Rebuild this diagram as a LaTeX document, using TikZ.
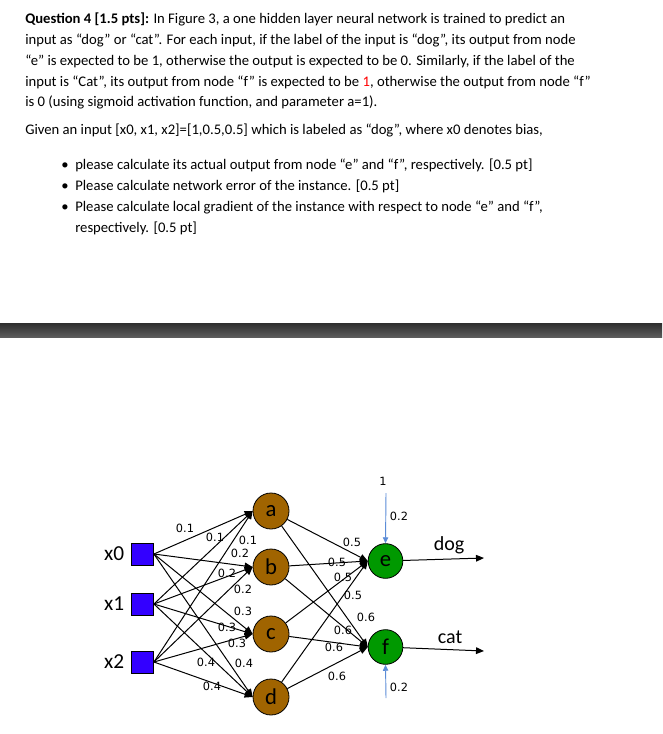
\documentclass[tikz,border=0pt]{standalone}
\usepackage{fontspec}
\setmainfont{Carlito}
\newfontfamily\wfont{DejaVu Sans}
\usepackage{tikz}
\usetikzlibrary{arrows.meta,positioning}

\definecolor{inblue}{RGB}{51,0,255}
\definecolor{hidbrown}{RGB}{160,100,0}
\definecolor{outgreen}{RGB}{0,153,0}
\definecolor{biasblue}{RGB}{91,140,215}

\begin{document}
\begin{tikzpicture}[
  x=0.75pt,
  y=-0.75pt,
  qline/.style={anchor=base west,inner sep=0pt,font=\fontsize{11}{13}\selectfont},
  inp/.style={draw=black,fill=inblue,minimum size=16.5pt,inner sep=0pt,line width=0.6pt},
  hid/.style={circle,draw=black,fill=hidbrown,minimum size=27pt,inner sep=0pt,line width=0.6pt,font=\fontsize{17}{20}\selectfont},
  outn/.style={circle,draw=black,fill=outgreen,minimum size=26pt,inner sep=0pt,line width=0.6pt,font=\fontsize{17}{20}\selectfont},
  big/.style={font=\fontsize{16}{19}\selectfont,inner sep=0pt},
  wt/.style={font=\wfont\fontsize{8.5}{10}\selectfont,inner sep=0pt},
  conn/.style={-{Triangle[length=6pt,width=5pt]},line width=0.75pt},
  biasarr/.style={-{Triangle[length=4.5pt,width=4pt]},draw=biasblue,line width=0.7pt}
]
\useasboundingbox (0,0) rectangle (662,734);

% question text
\node[qline] (q1) at (25,23.5) {\textbf{Question 4 [1.5 pts]:} In Figure 3, a one hidden layer neural network is trained to predict an};
\node[qline] (q2) at (25,44.5) {input as “dog” or “cat”. For each input, if the label of the input is “dog”, its output from node};
\node[qline] (q3) at (25,65.5) {“e” is expected to be 1, otherwise the output is expected to be 0. Similarly, if the label of the};
\node[qline] (q4) at (25,86.5) {input is “Cat”, its output from node “f” is expected to be \textcolor{red}{1}, otherwise the output from node “f”};
\node[qline] (q5) at (25,106.5) {is 0 (using sigmoid activation function, and parameter a=1).};
\node[qline] (q6) at (25,134.5) {Given an input [x0, x1, x2]=[1,0.5,0.5] which is labeled as “dog”, where x0 denotes bias,};
\foreach \y in {169.5,190.5,211.5} {
  \node[qline] at (61,\y) {•};
}
\node[qline] (b1) at (75,169.5) {please calculate its actual output from node “e” and “f”, respectively. [0.5 pt]};
\node[qline] (b2) at (75,190.5) {Please calculate network error of the instance. [0.5 pt]};
\node[qline] (b3) at (75,211.5) {Please calculate local gradient of the instance with respect to node “e” and “f”,};
\node[qline] (b4) at (75,232.5) {respectively. [0.5 pt]};

% separator bar
\shade[top color=black!82,bottom color=black!64] (0,323) rectangle (662,337);

% network
\node[inp] (x0) at (142.5,554) {};
\node[inp] (x1) at (142.5,604) {};
\node[inp] (x2) at (142.5,662) {};
\node[big,left=5pt of x0] (lx0) {x0};
\node[big,left=5pt of x1] (lx1) {x1};
\node[big,left=5pt of x2] (lx2) {x2};

\node[hid] (a) at (271,511) {a};
\node[hid] (b) at (271,567) {b};
\node[hid] (c) at (271,634) {c};
\node[hid] (d) at (271,697) {d};

\node[outn] (e) at (385.5,561) {e};
\node[outn] (f) at (385.5,647) {f};

\foreach \i in {x0,x1,x2} {
  \foreach \h in {a,b,c,d} {
    \draw[conn] (\i.east) -- (\h.west);
  }
}
\foreach \h in {a,b,c,d} {
  \draw[conn] (\h) -- (e.west);
  \draw[conn] (\h) -- (f.west);
}

% input weights
\node[wt] (w1) at (185,528) {0.1};
\node[wt] (w2) at (215,537) {0.1};
\node[wt] (w3) at (248,540) {0.1};
\node[wt] (w4) at (240,553) {0.2};
\node[wt] (w5) at (227,573) {0.2};
\node[wt] (w6) at (243,589) {0.2};
\node[wt] (w7) at (243,611) {0.3};
\node[wt] (w8) at (227,627) {0.3};
\node[wt] (w9) at (237,643) {0.3};
\node[wt] (w10) at (206,662) {0.4};
\node[wt] (w11) at (244,663) {0.4};
\node[wt] (w12) at (212,686) {0.4};

% output weights
\node[wt] (v1) at (352,542) {0.5};
\node[wt] (v2) at (337,562) {0.5};
\node[wt] (v3) at (343,577) {0.5};
\node[wt] (v4) at (353,595) {0.5};
\node[wt] (v5) at (366,617) {0.6};
\node[wt] (v6) at (343,630) {0.6};
\node[wt] (v7) at (334,647) {0.6};
\node[wt] (v8) at (337,676) {0.6};

% bias
\node[wt] (one) at (383,481) {1};
\coordinate (btop) at (386,493);
\coordinate (bbot) at (386,698);
\draw[biasarr] (btop) -- (e.north);
\draw[biasarr] (bbot) -- (f.south);
\node[wt] (be) at (399,516) {0.2};
\node[wt] (bf) at (399,687) {0.2};

% outputs
\coordinate (dogend) at (484,558);
\coordinate (catend) at (484,651);
\draw[conn] (e) -- (dogend);
\draw[conn] (f) -- (catend);
\node[big,font=\fontsize{15}{18}\selectfont] (dog) at (449,545) {dog};
\node[big,font=\fontsize{15}{18}\selectfont] (cat) at (450,637) {cat};
\end{tikzpicture}
\end{document}
